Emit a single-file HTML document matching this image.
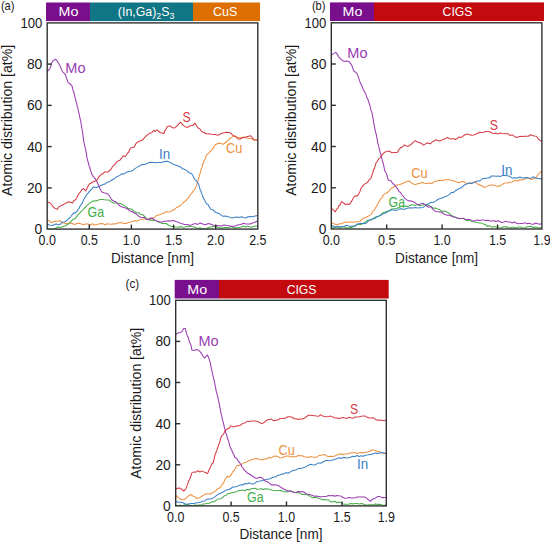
<!DOCTYPE html>
<html><head><meta charset="utf-8"><style>
html,body{margin:0;padding:0;background:#fff;width:550px;height:542px;overflow:hidden}
svg{display:block}
</style></head><body>
<svg width="550" height="542" viewBox="0 0 550 542" style="font-family:'Liberation Sans', sans-serif">
<rect width="550" height="542" fill="#fff"/>
<rect x="46.0" y="2.5" width="44.0" height="18.6" fill="#7a0f8e"/>
<text x="68.5" y="16.3" font-size="13.3" fill="#fff" text-anchor="middle" textLength="19.8" lengthAdjust="spacingAndGlyphs">Mo</text>
<rect x="90.0" y="2.5" width="103.0" height="18.6" fill="#107585"/>
<text x="146.1" y="16.3" font-size="13.3" fill="#fff" text-anchor="middle" textLength="56.5" lengthAdjust="spacingAndGlyphs">(In,Ga)<tspan font-size="9.5" dy="2.5">2</tspan><tspan dy="-2.5">S</tspan><tspan font-size="9.5" dy="2.5">3</tspan></text>
<rect x="193.0" y="2.5" width="67.0" height="18.6" fill="#dc6f00"/>
<text x="225.2" y="16.3" font-size="13.3" fill="#fff" text-anchor="middle" textLength="24.3" lengthAdjust="spacingAndGlyphs">CuS</text>
<clipPath id="clipa"><rect x="47.2" y="22.9" width="210.6" height="206.2"/></clipPath>
<g clip-path="url(#clipa)" fill="none" stroke-width="1.05" stroke-linejoin="round">
<polyline stroke="#ec9040" points="47.2,220.1 49.3,220.8 51.4,222.6 55.0,221.2 57.1,221.3 59.2,220.8 61.0,221.2 62.9,222.9 64.7,223.3 66.7,223.8 68.7,223.3 70.7,223.1 72.7,223.7 74.7,224.6 76.9,223.6 79.1,223.3 81.4,223.9 83.6,224.6 85.8,224.1 88.0,223.9 90.2,225.0 92.4,223.8 94.6,225.0 96.8,224.6 98.8,224.0 100.9,223.6 102.9,223.8 105.0,224.7 107.0,223.7 109.1,224.1 111.3,224.3 113.4,223.8 115.5,223.9 117.7,223.0 119.8,222.7 121.9,222.8 124.1,223.6 126.2,223.4 128.2,222.5 130.2,222.3 132.3,221.6 134.3,220.7 136.3,220.9 138.3,220.6 140.4,219.4 142.4,219.3 144.5,218.9 146.5,219.1 150.0,219.5 152.0,217.8 154.0,217.9 156.1,215.8 158.1,215.0 160.1,214.8 162.1,213.3 164.2,213.0 166.2,211.6 168.3,211.9 170.3,211.8 172.3,210.4 174.3,209.6 176.4,207.6 178.4,206.7 180.4,205.5 181.9,204.0 183.3,202.3 184.8,201.5 186.2,200.4 187.7,198.3 189.1,196.9 190.6,194.5 191.8,193.2 193.0,191.4 194.3,190.0 195.5,187.9 196.7,184.9 197.4,182.6 198.0,180.9 198.7,177.7 199.3,176.0 200.0,173.5 200.7,171.1 201.3,168.7 202.0,167.7 202.6,164.8 203.3,162.5 204.1,160.8 204.9,159.8 205.8,156.8 206.6,155.1 208.1,153.6 209.6,152.4 211.1,150.7 212.6,149.2 214.0,146.5 215.5,144.7 217.7,143.5 219.9,143.3 223.2,144.2 226.6,141.8 228.8,139.5 231.0,137.6 234.3,135.9 236.5,136.9 238.7,137.8 241.5,137.6 244.3,137.3 247.1,138.0 249.8,138.4 252.0,139.1 254.2,140.2 258.0,140.5"/>
<polyline stroke="#46ad4a" points="47.2,229.1 49.9,228.9 52.5,229.0 55.1,228.5 57.7,226.9 60.3,227.5 62.5,226.7 64.7,226.0 66.9,225.0 69.1,223.3 71.0,221.5 73.0,219.4 75.0,218.6 76.9,216.3 78.6,214.2 80.2,212.6 81.8,210.8 83.5,209.3 85.1,207.4 86.6,205.8 88.2,204.5 89.7,203.0 91.3,202.1 93.5,200.7 95.7,201.1 97.9,200.2 100.2,199.5 102.5,199.5 104.7,199.8 107.0,200.0 109.2,200.1 111.4,201.9 113.7,203.1 115.9,202.9 118.1,203.3 120.1,203.5 122.1,204.3 124.1,205.6 126.2,206.6 128.2,208.7 130.2,208.8 132.2,209.3 134.3,211.8 136.3,212.6 138.3,212.8 140.4,214.3 142.4,214.5 144.3,216.2 146.2,218.2 148.1,219.4 150.0,220.2 152.0,219.9 154.0,220.4 156.1,220.6 158.1,222.1 160.1,222.6 162.1,223.6 164.2,223.4 166.2,223.5 168.3,225.0 170.3,226.1 172.3,226.4 174.4,226.7 176.4,227.0 178.4,227.2 180.5,226.6 182.5,227.2 184.7,227.0 186.9,226.4 189.1,226.2 191.2,226.6 193.4,226.7 195.6,227.6 197.8,228.4 200.0,227.8 202.0,228.4 204.1,228.7 206.1,228.7 208.2,227.7 210.2,227.0 212.3,226.8 214.3,226.6 216.3,226.5 218.4,227.3 220.4,228.0 222.5,228.1 224.5,227.5 226.6,227.6 228.6,227.8 230.7,226.6 232.7,227.2 234.9,227.8 237.1,227.7 239.2,227.5 241.4,226.9 243.6,226.1 245.7,226.9 247.7,226.2 249.8,226.8 251.8,227.3 253.9,226.3 255.9,226.0 258.0,226.0"/>
<polyline stroke="#3b80c4" points="47.2,223.9 49.9,225.2 52.5,225.5 54.5,224.6 56.4,223.9 58.3,224.7 60.3,224.4 62.1,222.2 63.8,222.0 65.6,221.4 67.3,219.9 69.1,218.2 70.7,216.8 72.2,214.7 73.8,212.8 75.3,212.9 76.9,211.4 78.0,209.4 79.1,208.3 80.2,205.8 81.3,204.6 82.4,202.9 83.5,200.1 84.6,198.0 85.8,196.2 86.9,194.3 88.0,193.1 89.8,190.9 91.7,189.2 93.5,186.9 96.2,187.6 99.0,186.5 101.0,185.4 103.0,184.5 105.0,184.1 107.0,182.3 108.8,182.1 110.6,180.7 112.4,179.7 114.2,178.8 116.0,177.0 118.0,176.4 120.1,175.1 122.1,173.7 124.2,173.9 126.2,172.3 128.5,171.6 130.9,171.3 133.2,170.2 134.9,168.6 136.6,167.6 138.2,166.6 139.9,165.9 142.1,164.5 144.3,164.5 146.5,163.7 149.2,162.5 152.0,162.3 155.0,162.7 157.2,162.4 159.4,162.4 161.6,162.4 164.4,161.4 167.2,161.2 169.4,162.1 171.6,163.2 173.8,164.6 176.0,165.2 178.3,166.1 180.5,167.0 182.7,168.8 184.9,169.6 187.1,170.9 188.9,172.7 190.8,173.2 192.6,174.9 193.8,177.7 195.0,179.8 196.3,180.6 197.5,182.2 198.7,184.6 199.3,186.6 200.0,189.2 200.9,191.0 201.8,193.9 202.8,196.5 203.7,198.9 204.6,199.7 205.5,202.3 206.8,204.0 208.2,204.7 209.6,207.4 210.9,209.5 213.1,209.8 215.3,212.2 217.5,213.0 219.4,213.7 221.3,215.4 223.2,216.3 225.1,215.9 227.6,216.6 230.2,217.5 232.7,217.9 234.9,217.2 237.1,217.0 239.3,217.5 241.5,216.8 243.6,217.7 245.8,218.0 248.0,216.8 250.2,216.6 252.4,216.7 255.2,216.1 258.0,215.5"/>
<polyline stroke="#9a3cb2" points="47.2,70.2 47.8,71.1 50.0,68.4 50.8,66.6 51.6,63.0 53.3,60.6 55.5,59.2 57.7,61.7 58.5,63.2 59.4,64.7 60.5,66.9 61.6,69.8 62.7,71.8 64.1,73.1 65.5,74.8 66.4,78.2 67.3,80.2 68.2,82.6 69.9,83.7 72.1,86.1 72.8,89.4 73.5,91.7 74.2,93.3 74.9,97.0 75.5,99.2 76.0,101.7 76.6,102.7 77.1,106.0 77.7,107.1 78.2,110.4 78.7,112.1 79.1,113.7 79.6,116.0 80.0,118.8 80.5,119.9 80.8,121.3 81.1,123.9 81.4,125.5 81.7,127.2 82.0,129.2 82.4,131.0 82.7,133.3 83.0,135.6 83.3,137.7 83.6,140.6 84.0,142.0 84.4,144.3 84.8,145.8 85.2,147.9 85.6,149.4 86.0,151.7 86.4,153.4 86.8,156.6 87.2,158.7 87.6,160.1 88.3,162.6 89.0,165.7 89.7,166.7 90.3,169.8 91.0,171.6 91.7,173.8 93.0,176.2 94.2,177.4 95.5,179.1 96.8,181.2 97.6,183.7 98.5,184.7 99.3,187.1 100.1,188.9 101.0,190.6 101.8,192.0 103.8,192.8 105.9,193.2 107.9,194.1 109.6,196.0 111.3,199.2 113.0,200.8 114.8,201.4 116.5,202.2 118.3,204.5 120.1,206.0 122.1,207.0 124.1,207.4 126.2,208.3 128.2,209.5 130.2,211.0 132.2,211.6 134.3,213.0 136.3,213.8 138.4,216.0 140.4,217.3 142.4,217.5 144.5,217.6 146.5,219.4 148.5,219.4 150.0,218.1 152.0,218.2 154.0,219.5 156.1,220.6 158.1,221.6 160.1,221.9 162.1,222.1 164.2,221.2 166.2,221.2 168.2,220.8 170.3,221.1 172.3,220.5 174.3,220.8 176.4,221.7 178.4,222.2 180.4,223.4 182.4,223.7 184.5,224.4 186.5,224.5 188.6,224.8 190.6,225.4 192.9,224.3 195.3,223.6 197.7,224.4 200.0,222.9 202.8,224.1 205.5,224.8 208.2,223.5 210.9,224.3 213.7,225.3 216.4,225.5 218.9,225.8 221.5,226.1 224.0,225.1 226.5,225.6 229.1,225.8 231.6,226.6 233.8,226.2 236.0,225.8 238.2,224.8 240.9,224.4 243.6,223.3 245.8,224.0 248.0,223.9 250.2,224.0 252.4,223.0 254.5,222.5 256.7,221.3 258.0,222.3"/>
<polyline stroke="#d63c46" points="47.2,202.6 49.0,202.3 51.0,203.8 52.5,205.8 54.0,207.9 57.0,209.4 59.2,206.5 61.4,205.6 63.6,204.6 65.8,202.9 69.1,201.7 72.5,203.0 74.0,200.5 75.4,199.9 76.9,197.8 78.0,195.3 79.1,193.4 80.2,192.3 81.8,189.7 83.5,188.6 85.8,190.9 86.9,188.5 88.0,186.2 89.1,184.3 90.8,183.3 92.4,182.2 94.6,181.2 96.8,180.4 98.3,177.7 99.8,175.8 101.3,174.3 102.9,173.8 104.6,171.9 108.0,172.0 111.1,169.1 112.2,167.2 113.3,165.8 114.4,164.9 115.5,163.6 116.6,161.9 119.9,160.2 121.6,158.2 123.2,155.9 125.5,156.4 127.7,153.0 128.8,152.0 129.9,148.9 131.0,147.8 134.3,147.0 135.8,143.8 137.2,142.4 138.7,141.5 142.1,140.3 144.3,137.9 146.5,135.7 149.8,133.2 151.8,132.7 153.7,130.2 155.0,131.6 157.2,129.9 160.0,132.5 163.9,133.5 165.0,130.3 166.1,129.1 167.2,126.8 170.0,125.8 171.7,127.3 173.3,128.0 175.1,127.7 176.9,126.0 178.7,123.8 180.5,122.1 182.2,124.1 183.8,125.6 185.4,126.6 187.1,127.5 189.1,126.6 191.0,125.5 192.9,125.4 194.9,123.1 196.6,125.8 198.2,128.1 199.8,128.8 201.5,131.6 203.7,132.5 205.9,133.8 208.1,133.7 211.5,134.2 215.0,134.6 217.7,135.2 219.9,134.3 222.1,133.2 224.3,132.8 226.6,132.2 228.8,132.6 231.0,133.3 233.2,135.7 235.4,136.3 237.7,138.7 239.9,139.2 243.2,137.2 245.4,137.3 247.6,136.6 250.9,135.7 252.6,138.1 254.2,139.7 258.0,140.0"/>
</g>
<rect x="47.2" y="22.9" width="210.6" height="206.2" fill="none" stroke="#2b2b2b" stroke-width="1.35"/>
<line x1="47.2" y1="187.9" x2="51.7" y2="187.9" stroke="#2b2b2b" stroke-width="1.4"/>
<line x1="47.2" y1="146.6" x2="51.7" y2="146.6" stroke="#2b2b2b" stroke-width="1.4"/>
<line x1="47.2" y1="105.4" x2="51.7" y2="105.4" stroke="#2b2b2b" stroke-width="1.4"/>
<line x1="47.2" y1="64.1" x2="51.7" y2="64.1" stroke="#2b2b2b" stroke-width="1.4"/>
<text x="42.3" y="234.1" font-size="13.8" fill="#1a1a1a" text-anchor="end">0</text>
<text x="42.3" y="192.9" font-size="13.8" fill="#1a1a1a" text-anchor="end">20</text>
<text x="42.3" y="151.6" font-size="13.8" fill="#1a1a1a" text-anchor="end">40</text>
<text x="42.3" y="110.4" font-size="13.8" fill="#1a1a1a" text-anchor="end">60</text>
<text x="42.3" y="69.1" font-size="13.8" fill="#1a1a1a" text-anchor="end">80</text>
<text x="42.3" y="27.9" font-size="13.8" fill="#1a1a1a" text-anchor="end" textLength="21.8" lengthAdjust="spacingAndGlyphs">100</text>
<line x1="89.3" y1="229.1" x2="89.3" y2="224.6" stroke="#2b2b2b" stroke-width="1.4"/>
<line x1="131.4" y1="229.1" x2="131.4" y2="224.6" stroke="#2b2b2b" stroke-width="1.4"/>
<line x1="173.6" y1="229.1" x2="173.6" y2="224.6" stroke="#2b2b2b" stroke-width="1.4"/>
<line x1="215.7" y1="229.1" x2="215.7" y2="224.6" stroke="#2b2b2b" stroke-width="1.4"/>
<text x="47.2" y="244.8" font-size="13.9" fill="#1a1a1a" text-anchor="middle" textLength="17.3" lengthAdjust="spacingAndGlyphs">0.0</text>
<text x="89.3" y="244.8" font-size="13.9" fill="#1a1a1a" text-anchor="middle" textLength="17.3" lengthAdjust="spacingAndGlyphs">0.5</text>
<text x="131.4" y="244.8" font-size="13.9" fill="#1a1a1a" text-anchor="middle" textLength="17.3" lengthAdjust="spacingAndGlyphs">1.0</text>
<text x="173.6" y="244.8" font-size="13.9" fill="#1a1a1a" text-anchor="middle" textLength="17.3" lengthAdjust="spacingAndGlyphs">1.5</text>
<text x="215.7" y="244.8" font-size="13.9" fill="#1a1a1a" text-anchor="middle" textLength="17.3" lengthAdjust="spacingAndGlyphs">2.0</text>
<text x="257.8" y="244.8" font-size="13.9" fill="#1a1a1a" text-anchor="middle" textLength="17.3" lengthAdjust="spacingAndGlyphs">2.5</text>
<text x="152.5" y="263.4" font-size="14.4" fill="#1a1a1a" text-anchor="middle" textLength="83" lengthAdjust="spacingAndGlyphs">Distance [nm]</text>
<text transform="translate(11.7,120.4) rotate(-90)" x="0" y="0" font-size="14.3" fill="#1a1a1a" text-anchor="middle" textLength="151" lengthAdjust="spacingAndGlyphs">Atomic distribution [at%]</text>
<text x="65.3" y="72.8" font-size="14" fill="#9a3cb2" textLength="20.2" lengthAdjust="spacingAndGlyphs">Mo</text>
<text x="182.5" y="122.3" font-size="14" fill="#d63c46" textLength="8.2" lengthAdjust="spacingAndGlyphs">S</text>
<text x="159.1" y="159.2" font-size="14" fill="#3b80c4" textLength="11.2" lengthAdjust="spacingAndGlyphs">In</text>
<text x="226.0" y="153.2" font-size="14" fill="#ec9040" textLength="16.3" lengthAdjust="spacingAndGlyphs">Cu</text>
<text x="87.6" y="217.0" font-size="14" fill="#46ad4a" textLength="16.5" lengthAdjust="spacingAndGlyphs">Ga</text>
<text x="0.9" y="10.0" font-size="12.8" fill="#1a1a1a" textLength="13.6" lengthAdjust="spacingAndGlyphs">(a)</text>
<rect x="330.0" y="2.4" width="44.0" height="18.6" fill="#7a0f8e"/>
<text x="352.5" y="16.2" font-size="13.3" fill="#fff" text-anchor="middle" textLength="19.8" lengthAdjust="spacingAndGlyphs">Mo</text>
<rect x="374.0" y="2.4" width="170.0" height="18.6" fill="#c30a0e"/>
<text x="457.5" y="16.2" font-size="13.3" fill="#fff" text-anchor="middle" textLength="29.8" lengthAdjust="spacingAndGlyphs">CIGS</text>
<clipPath id="clipb"><rect x="331.3" y="22.8" width="210.6" height="206.2"/></clipPath>
<g clip-path="url(#clipb)" fill="none" stroke-width="1.05" stroke-linejoin="round">
<polyline stroke="#ec9040" points="331.3,223.1 332.1,223.0 334.6,224.0 337.0,224.7 339.6,223.8 342.1,223.7 344.2,222.1 346.2,222.5 348.3,221.9 350.4,221.9 352.8,222.3 355.2,222.0 357.6,221.7 359.8,221.6 362.0,219.2 364.2,218.0 366.4,217.0 368.6,216.0 370.0,215.1 371.4,214.1 372.8,211.5 374.2,210.1 375.3,208.0 376.4,206.6 377.5,204.7 378.6,202.5 379.7,200.4 380.8,198.5 381.9,197.9 383.0,195.6 385.0,193.5 386.8,192.8 388.7,191.6 390.5,189.0 392.7,187.3 394.8,186.2 397.0,185.0 399.8,184.6 402.5,183.4 404.7,182.5 406.8,181.5 409.0,181.0 411.2,182.9 413.3,184.0 415.5,184.5 417.7,183.7 419.9,183.3 422.1,182.5 424.8,183.2 427.5,183.5 429.7,182.9 431.9,183.5 434.1,181.7 436.8,180.9 439.5,180.2 443.1,180.6 445.1,179.8 447.2,179.7 449.2,179.8 451.2,180.2 453.3,180.5 455.3,181.6 457.3,182.2 459.3,182.7 461.4,181.6 463.4,181.5 465.4,182.9 467.4,183.6 469.5,183.1 471.5,183.1 473.6,182.1 475.6,182.4 478.0,184.3 480.3,185.3 482.6,186.3 485.0,187.4 487.8,185.9 490.5,184.9 493.0,184.9 495.6,185.7 498.1,186.4 500.3,185.8 502.4,184.4 504.6,182.9 507.2,182.9 509.7,182.2 512.3,181.9 514.8,180.5 517.4,181.0 519.9,179.8 522.1,180.1 524.3,179.2 526.5,177.8 529.2,178.4 531.9,179.5 534.1,178.5 536.3,177.3 538.2,174.5 540.1,172.3 542.0,171.5"/>
<polyline stroke="#46ad4a" points="331.3,227.6 333.3,227.8 335.4,227.5 337.4,227.1 339.5,227.6 341.5,226.7 343.5,226.9 345.6,227.3 347.6,228.3 349.8,227.6 352.0,227.4 354.3,226.2 356.5,225.0 358.7,224.2 360.9,224.5 363.1,223.6 365.3,222.0 367.5,220.4 369.7,220.1 371.6,219.7 373.4,218.5 375.2,217.1 377.1,216.8 378.9,216.5 380.8,214.6 382.9,212.8 385.0,212.1 387.2,211.3 389.4,210.8 391.5,209.0 393.7,208.8 396.3,208.4 398.8,207.5 401.4,206.2 403.6,207.1 405.8,206.1 407.9,206.4 410.1,205.3 412.6,204.8 415.2,205.4 417.7,204.6 419.9,205.7 422.1,205.2 424.3,204.6 426.5,204.4 428.6,205.3 430.8,206.4 433.0,208.2 435.2,208.1 437.4,208.9 439.5,209.4 441.4,211.4 443.2,211.1 445.1,211.3 447.1,212.0 449.2,213.4 451.2,215.3 453.3,216.4 455.3,217.1 457.3,218.2 459.3,218.8 461.4,218.4 463.4,218.4 465.4,220.1 467.4,220.8 469.5,220.1 471.5,221.4 473.6,221.7 475.6,222.2 477.6,222.7 479.6,223.0 481.7,223.1 483.7,224.1 485.7,225.0 487.7,226.5 489.8,225.7 491.8,227.2 493.9,226.6 495.9,226.8 497.9,227.7 500.0,228.0 502.0,227.5 504.0,226.6 506.1,227.1 508.1,227.1 510.1,228.1 512.1,227.2 514.2,227.2 516.2,228.2 518.4,226.9 520.5,227.1 522.7,227.9 524.8,228.1 527.0,226.8 529.1,226.4 531.2,226.2 533.4,227.7 535.5,227.0 537.7,227.6 539.9,228.1 542.0,227.2"/>
<polyline stroke="#3b80c4" points="331.3,225.3 332.1,225.4 334.1,226.8 336.1,226.8 338.1,226.3 340.1,227.1 342.1,226.8 344.3,226.2 346.5,225.3 348.7,226.1 350.9,226.5 353.1,225.9 355.3,225.9 357.5,224.0 359.8,223.4 362.0,223.3 364.2,223.8 366.1,223.3 367.9,221.4 369.8,220.0 371.6,219.2 373.4,218.4 375.3,218.3 377.1,216.3 378.8,216.0 380.6,215.2 382.3,214.4 384.1,213.4 386.6,212.4 389.0,211.1 391.5,210.1 394.0,209.9 396.4,210.4 398.9,209.1 401.4,208.7 403.6,209.5 405.8,208.8 407.9,208.1 410.1,207.7 412.6,208.1 415.2,207.4 417.7,208.0 420.4,207.7 423.2,207.4 425.9,205.3 428.6,203.8 430.4,202.6 432.3,202.4 434.1,202.1 435.9,200.9 437.7,199.5 439.5,198.8 441.4,198.2 443.2,197.5 445.1,196.7 447.1,195.9 449.2,194.6 451.2,192.6 453.3,192.5 455.3,190.8 457.3,189.8 459.3,188.4 461.4,187.8 463.4,185.8 465.4,184.4 467.4,183.7 469.5,182.9 471.5,183.5 473.6,182.8 475.6,181.7 477.5,180.9 479.4,181.1 481.2,179.9 483.1,178.4 485.0,178.4 487.2,177.9 489.3,178.0 491.5,176.0 493.7,175.9 495.9,176.2 498.1,176.1 500.3,176.6 502.4,175.4 504.6,175.6 507.2,175.8 509.7,176.3 512.3,178.2 514.8,177.8 517.4,178.1 519.9,177.0 522.1,178.0 524.3,177.8 526.5,177.6 528.7,178.1 530.8,178.4 533.0,176.8 535.2,177.8 537.5,178.5 539.8,178.4 542.0,179.4"/>
<polyline stroke="#9a3cb2" points="331.3,55.8 331.9,54.8 333.5,53.6 335.7,52.4 337.4,54.3 339.1,57.4 340.5,58.7 341.8,60.0 344.1,61.4 346.3,61.1 349.0,61.6 351.2,64.4 352.1,66.2 353.1,69.2 354.0,71.2 356.8,73.1 357.7,75.2 358.7,78.1 359.6,80.9 360.5,83.4 361.4,84.7 362.3,86.8 363.2,89.5 364.2,91.1 365.1,92.7 366.0,94.6 367.0,97.8 367.9,99.1 368.5,101.3 369.1,103.0 369.8,105.0 370.4,107.8 371.0,110.4 371.6,111.4 372.0,112.8 372.4,115.6 372.8,117.0 373.1,118.4 373.5,121.8 373.9,123.5 374.3,126.1 374.7,127.6 375.2,130.6 375.6,132.3 376.1,133.9 376.5,135.7 377.0,138.7 377.5,141.3 378.0,144.1 378.5,145.0 379.0,147.7 379.5,149.6 380.0,151.9 380.6,153.5 381.2,155.8 381.8,158.4 382.4,161.5 383.0,162.5 383.7,165.3 384.3,168.4 385.0,171.4 385.8,172.4 386.6,174.1 387.5,177.6 388.3,180.3 389.4,180.3 391.0,180.8 392.6,183.5 394.3,184.5 395.9,186.7 397.5,188.9 399.2,191.6 400.6,192.5 401.9,195.1 403.2,196.2 404.6,198.2 406.8,199.9 409.0,201.0 410.8,200.8 412.7,201.4 414.5,202.5 416.6,203.9 418.8,204.9 421.0,203.8 423.2,203.3 426.5,205.8 428.6,207.2 430.8,206.7 432.6,208.9 434.5,211.0 436.3,211.5 439.5,212.0 441.4,212.0 443.2,213.5 445.1,214.5 447.1,215.3 449.2,215.3 451.2,216.0 453.3,216.9 455.3,217.3 457.3,218.1 459.3,218.2 461.4,218.5 463.4,218.2 465.4,219.4 467.4,219.6 469.5,219.4 471.5,220.4 473.6,220.9 475.6,220.6 477.6,220.1 479.7,220.5 481.7,220.0 483.7,220.0 485.8,220.5 487.8,220.2 489.8,220.8 491.8,221.2 493.9,220.5 495.9,221.4 497.9,220.8 500.0,221.8 502.0,222.4 504.0,222.1 506.1,221.3 508.1,221.9 510.1,221.9 512.1,223.0 514.2,222.0 516.2,223.0 518.4,223.7 520.5,223.5 522.7,223.6 524.8,222.6 527.0,223.7 529.1,223.3 531.2,224.0 533.4,224.2 535.5,223.0 537.7,223.8 539.9,224.3 542.0,223.5"/>
<polyline stroke="#d63c46" points="331.3,208.2 332.1,208.8 335.4,211.8 336.6,209.1 337.8,208.3 339.1,205.6 340.3,204.5 341.5,201.6 343.4,202.8 345.4,204.5 347.4,204.1 349.3,204.4 350.5,202.9 351.8,200.9 353.0,198.5 354.2,196.8 355.9,195.7 357.6,196.0 358.7,193.8 359.8,191.9 360.9,188.5 362.0,187.0 363.8,184.6 365.7,183.5 367.5,182.4 369.2,179.8 370.9,178.4 371.6,176.2 372.2,174.2 372.9,172.7 373.6,169.6 374.4,168.4 375.2,165.8 376.0,163.0 377.3,161.5 378.7,158.8 380.0,157.8 381.7,155.6 383.3,153.3 385.0,152.0 387.2,151.6 389.4,151.0 391.6,152.7 393.9,152.6 397.2,152.5 398.9,149.6 400.5,147.8 402.4,147.0 404.4,144.9 406.3,146.0 408.2,146.4 411.0,144.5 413.2,142.4 415.4,140.6 417.4,142.0 419.3,142.5 421.5,143.5 423.7,145.1 427.1,142.9 430.4,143.8 432.6,141.7 435.9,139.7 439.2,141.0 441.1,140.6 443.1,139.4 445.2,138.7 447.2,137.6 449.2,138.5 451.2,138.9 453.3,138.6 455.3,139.4 457.3,138.5 459.3,137.0 461.4,137.4 463.4,135.8 465.4,134.5 467.4,134.0 469.5,134.7 471.5,135.2 473.6,135.1 475.6,134.3 477.6,133.3 479.7,132.2 481.7,132.6 483.7,132.3 485.8,131.5 487.8,131.4 489.8,131.7 491.9,133.0 493.9,133.4 495.9,133.0 497.9,134.1 499.9,133.0 502.0,133.6 504.0,133.8 506.0,133.7 508.0,133.7 510.1,135.4 512.1,134.9 514.1,136.1 516.2,137.5 518.2,136.9 520.2,136.3 522.3,136.6 524.3,136.2 526.3,136.2 528.4,136.2 530.4,134.8 532.4,135.4 534.5,136.1 536.5,136.3 538.3,139.0 540.2,140.6 542.0,141.3"/>
</g>
<rect x="331.3" y="22.8" width="210.6" height="206.2" fill="none" stroke="#2b2b2b" stroke-width="1.35"/>
<line x1="331.3" y1="187.8" x2="335.8" y2="187.8" stroke="#2b2b2b" stroke-width="1.4"/>
<line x1="331.3" y1="146.5" x2="335.8" y2="146.5" stroke="#2b2b2b" stroke-width="1.4"/>
<line x1="331.3" y1="105.3" x2="335.8" y2="105.3" stroke="#2b2b2b" stroke-width="1.4"/>
<line x1="331.3" y1="64.0" x2="335.8" y2="64.0" stroke="#2b2b2b" stroke-width="1.4"/>
<text x="326.4" y="234.0" font-size="13.8" fill="#1a1a1a" text-anchor="end">0</text>
<text x="326.4" y="192.8" font-size="13.8" fill="#1a1a1a" text-anchor="end">20</text>
<text x="326.4" y="151.5" font-size="13.8" fill="#1a1a1a" text-anchor="end">40</text>
<text x="326.4" y="110.3" font-size="13.8" fill="#1a1a1a" text-anchor="end">60</text>
<text x="326.4" y="69.0" font-size="13.8" fill="#1a1a1a" text-anchor="end">80</text>
<text x="326.4" y="27.8" font-size="13.8" fill="#1a1a1a" text-anchor="end" textLength="21.8" lengthAdjust="spacingAndGlyphs">100</text>
<line x1="386.7" y1="229.0" x2="386.7" y2="224.5" stroke="#2b2b2b" stroke-width="1.4"/>
<line x1="442.1" y1="229.0" x2="442.1" y2="224.5" stroke="#2b2b2b" stroke-width="1.4"/>
<line x1="497.6" y1="229.0" x2="497.6" y2="224.5" stroke="#2b2b2b" stroke-width="1.4"/>
<text x="331.3" y="244.7" font-size="13.9" fill="#1a1a1a" text-anchor="middle" textLength="17.3" lengthAdjust="spacingAndGlyphs">0.0</text>
<text x="386.7" y="244.7" font-size="13.9" fill="#1a1a1a" text-anchor="middle" textLength="17.3" lengthAdjust="spacingAndGlyphs">0.5</text>
<text x="442.1" y="244.7" font-size="13.9" fill="#1a1a1a" text-anchor="middle" textLength="17.3" lengthAdjust="spacingAndGlyphs">1.0</text>
<text x="497.6" y="244.7" font-size="13.9" fill="#1a1a1a" text-anchor="middle" textLength="17.3" lengthAdjust="spacingAndGlyphs">1.5</text>
<text x="541.9" y="244.7" font-size="13.9" fill="#1a1a1a" text-anchor="middle" textLength="17.3" lengthAdjust="spacingAndGlyphs">1.9</text>
<text x="436.6" y="263.3" font-size="14.4" fill="#1a1a1a" text-anchor="middle" textLength="83" lengthAdjust="spacingAndGlyphs">Distance [nm]</text>
<text transform="translate(295.8,120.3) rotate(-90)" x="0" y="0" font-size="14.3" fill="#1a1a1a" text-anchor="middle" textLength="151" lengthAdjust="spacingAndGlyphs">Atomic distribution [at%]</text>
<text x="347.3" y="57.8" font-size="14" fill="#9a3cb2" textLength="20.2" lengthAdjust="spacingAndGlyphs">Mo</text>
<text x="489.8" y="130.3" font-size="14" fill="#d63c46" textLength="8.2" lengthAdjust="spacingAndGlyphs">S</text>
<text x="501.2" y="174.6" font-size="14" fill="#3b80c4" textLength="11.2" lengthAdjust="spacingAndGlyphs">In</text>
<text x="411.2" y="177.6" font-size="14" fill="#ec9040" textLength="16.3" lengthAdjust="spacingAndGlyphs">Cu</text>
<text x="388.6" y="206.7" font-size="14" fill="#46ad4a" textLength="16.5" lengthAdjust="spacingAndGlyphs">Ga</text>
<text x="311.9" y="10.0" font-size="12.8" fill="#1a1a1a" textLength="13.6" lengthAdjust="spacingAndGlyphs">(b)</text>
<rect x="174.7" y="279.9" width="44.3" height="18.6" fill="#7a0f8e"/>
<text x="197.2" y="293.7" font-size="13.3" fill="#fff" text-anchor="middle" textLength="19.8" lengthAdjust="spacingAndGlyphs">Mo</text>
<rect x="219.0" y="279.9" width="169.7" height="18.6" fill="#c30a0e"/>
<text x="301.6" y="293.7" font-size="13.3" fill="#fff" text-anchor="middle" textLength="29.8" lengthAdjust="spacingAndGlyphs">CIGS</text>
<clipPath id="clipc"><rect x="175.7" y="300.3" width="210.6" height="205.6"/></clipPath>
<g clip-path="url(#clipc)" fill="none" stroke-width="1.05" stroke-linejoin="round">
<polyline stroke="#ec9040" points="175.7,496.9 176.1,495.7 179.4,498.5 181.6,499.5 183.7,499.8 185.3,498.8 187.0,497.1 188.9,495.7 190.8,494.5 192.8,495.9 194.8,496.8 196.8,498.5 198.7,498.0 200.7,496.9 202.6,495.8 204.5,494.4 207.2,493.8 209.9,494.3 211.9,492.9 213.8,492.1 215.8,490.6 217.7,488.7 219.7,487.8 221.0,486.8 222.3,483.9 223.6,482.9 224.8,479.8 226.1,478.0 227.4,476.1 228.8,477.3 230.2,476.1 231.5,474.1 232.9,471.5 234.3,470.4 235.6,467.8 237.0,465.5 239.0,465.5 241.0,464.4 243.1,463.4 245.1,462.4 247.1,461.9 249.1,460.4 251.1,460.1 253.2,459.2 255.2,458.7 257.2,458.5 259.2,459.3 261.3,459.7 263.3,459.7 265.3,458.7 267.4,458.7 269.4,457.3 271.5,457.9 273.5,456.3 275.5,456.0 277.6,456.2 279.6,457.9 281.6,457.7 283.7,456.9 285.9,456.2 288.0,455.8 290.1,456.7 292.1,456.8 294.2,456.8 296.2,456.8 298.3,455.4 300.3,455.8 302.3,455.7 304.3,456.7 306.4,457.1 308.4,457.6 310.4,456.4 312.4,457.1 314.5,457.3 316.5,457.3 318.6,455.7 320.6,455.2 322.6,454.9 324.7,454.6 326.7,456.0 328.7,456.4 330.8,456.3 332.8,456.5 334.8,456.0 336.9,455.1 338.9,454.3 340.9,453.8 342.9,454.7 344.9,453.9 347.0,453.7 349.0,453.7 351.0,452.8 353.0,452.8 355.1,452.7 357.1,453.4 359.2,452.8 361.2,452.4 363.2,453.1 365.3,452.2 367.3,452.3 369.3,451.6 371.4,450.0 373.4,449.9 375.4,450.6 377.4,451.8 379.5,451.7 381.5,452.7 383.9,453.0 386.3,453.2"/>
<polyline stroke="#46ad4a" points="175.7,505.2 177.8,506.1 179.9,505.1 182.0,506.0 184.1,505.1 186.2,504.5 188.4,504.6 190.5,505.6 192.6,506.4 194.7,504.9 196.8,505.2 199.0,504.9 201.2,505.1 203.3,503.9 205.5,503.7 207.7,503.2 209.9,503.2 212.1,501.6 214.2,501.8 216.4,500.1 218.6,498.9 220.8,498.8 222.5,497.6 224.3,495.8 226.0,495.4 227.8,493.5 229.5,493.5 231.8,492.8 234.1,492.2 236.3,491.7 238.6,490.8 240.8,490.4 243.0,490.0 245.0,490.7 247.1,489.3 249.1,490.1 251.1,488.7 253.1,488.4 255.2,488.2 257.2,489.2 259.2,489.0 261.3,488.7 263.3,489.6 265.3,488.8 267.4,489.0 269.4,489.3 271.4,490.1 273.5,490.6 275.5,490.8 277.5,490.5 279.6,490.6 281.6,490.6 283.7,491.7 285.9,491.7 288.0,491.9 290.1,490.9 292.1,491.5 294.2,492.5 296.2,492.8 298.3,492.4 300.3,493.1 302.3,494.6 304.3,494.3 306.4,494.6 308.4,495.2 310.4,496.6 312.4,497.7 314.5,497.3 316.5,497.5 318.6,498.2 320.6,498.9 322.6,499.7 324.7,499.5 326.7,500.0 328.7,500.1 330.8,501.8 332.8,502.1 334.8,501.3 336.9,502.8 338.9,502.0 340.9,502.5 343.0,503.9 345.0,504.3 347.0,504.3 349.1,503.9 351.1,503.4 353.1,504.1 355.1,503.4 357.1,503.5 359.2,503.9 361.2,503.5 363.3,504.0 365.4,504.8 367.5,505.0 369.6,504.7 371.7,504.8 373.8,504.5 375.8,503.9 377.9,504.5 380.0,504.3 382.1,504.9 384.2,505.4 386.3,504.5"/>
<polyline stroke="#3b80c4" points="175.7,501.3 176.1,501.5 178.1,502.3 180.0,502.3 182.0,502.2 183.9,503.3 185.9,504.3 188.4,503.9 191.0,503.5 193.5,503.4 196.1,502.9 198.6,502.6 201.2,502.0 203.2,500.9 205.1,500.7 207.1,499.2 209.0,498.9 211.0,499.0 213.0,498.0 214.9,496.9 216.9,495.1 218.8,494.0 220.8,493.0 223.0,492.1 225.2,490.6 227.3,489.8 229.5,489.2 232.9,487.0 234.9,486.9 236.9,486.6 239.0,485.4 241.0,484.8 243.0,485.0 245.0,483.5 247.1,483.7 249.1,483.0 251.2,483.7 253.2,484.1 255.2,482.9 257.2,481.4 259.3,481.3 261.3,480.8 263.3,480.6 265.3,479.7 267.4,479.3 269.4,479.0 271.5,478.0 273.5,477.0 275.5,477.1 277.6,475.4 279.6,475.1 281.6,474.0 283.7,474.0 285.9,472.6 288.0,473.3 290.1,472.1 292.1,470.7 294.2,470.2 296.2,469.8 298.3,468.6 300.3,468.5 302.3,467.9 304.3,467.6 306.4,466.4 308.4,465.2 310.4,464.2 312.4,464.7 314.5,465.0 316.5,464.1 318.6,462.9 320.6,463.3 322.6,462.2 324.6,461.2 326.7,460.2 328.7,460.7 330.7,460.5 332.7,459.9 334.8,459.2 336.8,458.8 338.9,457.8 340.9,458.5 342.9,457.6 344.9,457.6 347.0,457.9 349.0,457.8 351.0,457.0 353.0,456.3 355.1,456.4 357.1,455.5 359.2,456.4 361.2,455.7 363.2,456.2 365.2,455.2 367.3,454.9 369.3,454.5 371.3,454.5 373.3,453.8 375.4,453.0 377.4,453.8 379.5,453.1 381.5,452.6 383.9,452.9 386.3,453.8"/>
<polyline stroke="#9a3cb2" points="175.7,334.6 175.9,334.3 178.1,332.9 180.3,332.4 182.0,331.5 182.8,330.3 183.6,328.4 185.3,328.4 186.0,331.5 186.8,334.2 187.5,336.3 188.2,337.3 189.0,340.4 189.7,342.5 190.4,343.9 191.2,346.0 191.9,350.1 194.1,350.5 196.9,349.4 198.6,350.4 200.2,351.8 201.7,353.7 203.2,356.6 204.7,358.0 207.4,354.9 209.1,358.7 209.7,361.2 210.2,362.5 210.8,365.8 211.3,368.0 211.8,370.3 212.2,372.3 212.7,374.7 213.2,376.7 213.6,378.8 214.1,379.8 214.5,382.3 214.9,384.1 215.3,386.5 215.7,388.1 216.1,390.7 216.5,392.3 216.9,393.7 217.4,395.4 217.9,397.1 218.3,399.7 218.7,401.1 219.2,403.7 219.6,405.3 220.0,407.8 220.4,410.0 220.8,412.2 221.3,414.8 221.7,415.5 222.2,418.6 222.7,420.4 223.2,422.5 223.8,424.7 224.3,427.1 224.8,428.5 225.3,430.3 225.8,433.3 226.5,434.2 227.1,437.0 227.8,439.4 228.5,440.5 229.1,443.4 229.8,446.0 230.7,448.4 231.5,449.4 232.4,452.1 233.2,453.4 234.1,455.0 234.9,457.5 236.6,458.3 238.3,461.1 240.0,463.2 241.0,464.5 242.1,467.0 243.1,468.2 244.1,469.9 245.8,471.4 247.4,473.2 249.1,473.8 251.1,475.2 253.2,476.5 255.2,478.1 257.2,478.4 259.3,477.3 261.3,477.6 263.4,479.2 265.4,481.2 267.4,481.8 269.5,483.1 271.5,485.0 274.0,484.8 276.5,484.9 278.2,485.5 279.9,486.6 281.6,487.8 283.7,489.0 285.9,490.0 288.0,491.1 290.1,490.7 292.1,491.7 294.2,492.5 296.2,492.2 298.3,491.4 300.3,491.7 302.3,491.6 304.3,492.2 306.4,494.0 308.4,494.3 310.4,494.8 312.4,495.5 314.5,496.2 316.5,496.1 318.6,496.4 320.6,496.8 322.6,496.7 324.7,496.4 326.7,496.3 328.7,495.4 330.8,495.7 332.8,495.4 334.8,496.3 336.8,495.6 338.9,495.8 340.9,495.9 342.9,497.5 344.9,498.2 347.0,498.0 349.0,497.4 351.0,498.0 353.1,498.1 355.1,497.8 357.1,497.1 359.1,496.9 361.2,497.1 363.2,497.0 365.2,497.1 367.8,499.1 370.3,501.3 372.7,499.0 375.0,498.4 377.4,496.6 379.6,496.4 381.9,497.6 384.1,497.6 386.3,497.4"/>
<polyline stroke="#d63c46" points="175.7,489.6 176.1,489.0 178.3,488.0 180.5,488.3 183.7,491.0 184.8,490.0 185.9,488.5 187.0,485.9 187.8,483.6 188.6,481.0 189.4,479.8 190.3,477.4 191.1,475.2 191.9,472.9 193.9,471.9 195.9,472.2 197.9,470.7 199.9,472.0 201.9,470.9 203.9,471.9 205.6,472.5 207.2,473.6 208.1,472.5 209.0,469.8 209.9,468.4 211.0,465.8 212.1,463.5 213.2,462.8 213.7,460.5 214.3,458.3 214.8,455.7 215.6,453.3 216.2,452.0 216.9,450.4 217.5,448.2 218.1,447.0 218.8,444.1 219.4,443.2 220.1,441.2 220.7,438.0 221.7,435.7 222.8,434.9 223.8,433.8 224.8,430.9 226.8,429.3 228.9,428.3 230.9,425.9 232.9,426.9 234.9,426.5 237.0,425.7 239.0,425.9 241.0,424.8 243.0,423.2 245.0,422.9 247.1,421.4 249.1,421.6 251.1,421.0 253.2,421.1 255.2,421.0 257.2,421.5 259.3,422.2 261.3,423.7 263.3,422.9 265.4,421.5 267.4,419.7 269.4,419.4 271.5,419.1 273.5,420.8 275.5,420.4 277.6,420.1 279.6,418.8 281.6,418.5 283.8,418.5 285.9,417.8 288.1,416.7 290.1,416.7 292.2,417.3 294.2,418.7 296.3,418.7 298.3,419.6 300.3,419.0 302.3,418.9 304.4,418.3 306.4,416.7 308.4,415.3 310.4,415.3 312.5,415.5 314.5,415.7 316.5,416.1 318.6,416.3 320.6,414.7 322.6,415.9 324.7,416.4 326.7,416.8 328.7,416.6 330.8,416.1 332.8,417.1 334.8,417.7 336.8,417.9 338.9,418.6 340.9,418.0 342.9,417.6 344.9,417.9 347.0,418.4 349.0,417.3 351.1,417.8 353.1,418.2 355.1,416.9 357.1,416.9 359.2,416.8 361.2,416.3 363.2,416.0 365.2,416.1 367.3,417.3 369.3,417.9 371.3,418.0 373.4,417.8 375.4,419.4 377.5,420.3 379.5,420.0 381.8,420.2 384.0,420.8 386.3,419.9"/>
</g>
<rect x="175.7" y="300.3" width="210.6" height="205.6" fill="none" stroke="#2b2b2b" stroke-width="1.35"/>
<line x1="175.7" y1="464.8" x2="180.2" y2="464.8" stroke="#2b2b2b" stroke-width="1.4"/>
<line x1="175.7" y1="423.7" x2="180.2" y2="423.7" stroke="#2b2b2b" stroke-width="1.4"/>
<line x1="175.7" y1="382.5" x2="180.2" y2="382.5" stroke="#2b2b2b" stroke-width="1.4"/>
<line x1="175.7" y1="341.4" x2="180.2" y2="341.4" stroke="#2b2b2b" stroke-width="1.4"/>
<text x="170.8" y="510.9" font-size="13.8" fill="#1a1a1a" text-anchor="end">0</text>
<text x="170.8" y="469.8" font-size="13.8" fill="#1a1a1a" text-anchor="end">20</text>
<text x="170.8" y="428.7" font-size="13.8" fill="#1a1a1a" text-anchor="end">40</text>
<text x="170.8" y="387.5" font-size="13.8" fill="#1a1a1a" text-anchor="end">60</text>
<text x="170.8" y="346.4" font-size="13.8" fill="#1a1a1a" text-anchor="end">80</text>
<text x="170.8" y="305.3" font-size="13.8" fill="#1a1a1a" text-anchor="end" textLength="21.8" lengthAdjust="spacingAndGlyphs">100</text>
<line x1="231.1" y1="505.9" x2="231.1" y2="501.4" stroke="#2b2b2b" stroke-width="1.4"/>
<line x1="286.5" y1="505.9" x2="286.5" y2="501.4" stroke="#2b2b2b" stroke-width="1.4"/>
<line x1="342.0" y1="505.9" x2="342.0" y2="501.4" stroke="#2b2b2b" stroke-width="1.4"/>
<text x="175.7" y="521.6" font-size="13.9" fill="#1a1a1a" text-anchor="middle" textLength="17.3" lengthAdjust="spacingAndGlyphs">0.0</text>
<text x="231.1" y="521.6" font-size="13.9" fill="#1a1a1a" text-anchor="middle" textLength="17.3" lengthAdjust="spacingAndGlyphs">0.5</text>
<text x="286.5" y="521.6" font-size="13.9" fill="#1a1a1a" text-anchor="middle" textLength="17.3" lengthAdjust="spacingAndGlyphs">1.0</text>
<text x="342.0" y="521.6" font-size="13.9" fill="#1a1a1a" text-anchor="middle" textLength="17.3" lengthAdjust="spacingAndGlyphs">1.5</text>
<text x="386.3" y="521.6" font-size="13.9" fill="#1a1a1a" text-anchor="middle" textLength="17.3" lengthAdjust="spacingAndGlyphs">1.9</text>
<text x="281.0" y="539.3" font-size="14.4" fill="#1a1a1a" text-anchor="middle" textLength="83" lengthAdjust="spacingAndGlyphs">Distance [nm]</text>
<text transform="translate(140.8,403.3) rotate(-90)" x="0" y="0" font-size="14.3" fill="#1a1a1a" text-anchor="middle" textLength="151" lengthAdjust="spacingAndGlyphs">Atomic distribution [at%]</text>
<text x="198.4" y="346.2" font-size="14" fill="#9a3cb2" textLength="20.2" lengthAdjust="spacingAndGlyphs">Mo</text>
<text x="350.0" y="413.8" font-size="14" fill="#d63c46" textLength="8.2" lengthAdjust="spacingAndGlyphs">S</text>
<text x="357.1" y="468.6" font-size="14" fill="#3b80c4" textLength="11.2" lengthAdjust="spacingAndGlyphs">In</text>
<text x="278.6" y="454.5" font-size="14" fill="#ec9040" textLength="16.3" lengthAdjust="spacingAndGlyphs">Cu</text>
<text x="247.1" y="501.8" font-size="14" fill="#46ad4a" textLength="16.5" lengthAdjust="spacingAndGlyphs">Ga</text>
<text x="125.5" y="287.8" font-size="12.8" fill="#1a1a1a" textLength="13.6" lengthAdjust="spacingAndGlyphs">(c)</text>
</svg>
</body></html>
